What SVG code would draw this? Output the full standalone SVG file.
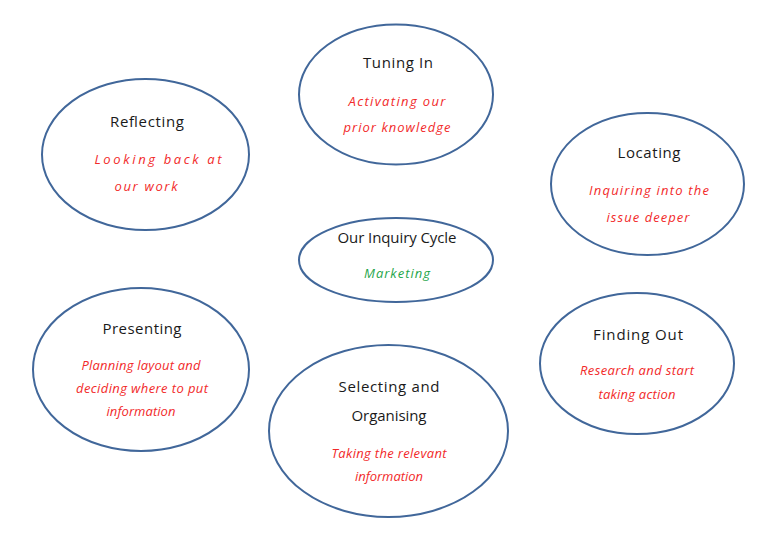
<svg xmlns="http://www.w3.org/2000/svg" width="768" height="543" viewBox="0 0 768 543">
<style>
.bg{fill:#ffffff}
.node ellipse{fill:#ffffff;stroke:#41679a;stroke-width:2}
text{font-family:"Open Sans","Liberation Sans",sans-serif;text-anchor:middle}
.t{fill:#1a1a1a;font-size:15px}
.r{fill:#f22a2a;font-size:13px;font-style:italic}
.g{fill:#1fa64a;font-size:13px;font-style:italic}
</style>
<rect class="bg" x="0" y="0" width="768" height="543"/>
<g id="connectors"/>
<g id="tuning-in" class="node">
<ellipse cx="396" cy="94.5" rx="97" ry="70"/>
<text class="t" x="398" y="68" textLength="70" lengthAdjust="spacing">Tuning In</text>
<text class="r" x="397" y="106" textLength="97" lengthAdjust="spacing">Activating our</text>
<text class="r" x="397" y="132" textLength="107" lengthAdjust="spacing">prior knowledge</text>
</g>
<g id="reflecting" class="node">
<ellipse cx="145.5" cy="154.5" rx="103.5" ry="75.5"/>
<text class="t" x="147" y="127" textLength="74" lengthAdjust="spacing">Reflecting</text>
<text class="r" x="158" y="164" textLength="127" lengthAdjust="spacing">Looking back at</text>
<text class="r" x="146" y="191" textLength="63" lengthAdjust="spacing">our work</text>
</g>
<g id="inquiry-cycle" class="node">
<ellipse cx="396" cy="260" rx="97" ry="42"/>
<text class="t" x="397" y="243" font-size="14" textLength="119" lengthAdjust="spacing">Our Inquiry Cycle</text>
<text class="g" x="397" y="278" textLength="66" lengthAdjust="spacing">Marketing</text>
</g>
<g id="locating" class="node">
<ellipse cx="647.5" cy="184" rx="96.5" ry="71"/>
<text class="t" x="649" y="158" textLength="63" lengthAdjust="spacing">Locating</text>
<text class="r" x="649" y="195" textLength="120" lengthAdjust="spacing">Inquiring into the</text>
<text class="r" x="648" y="222" textLength="83" lengthAdjust="spacing">issue deeper</text>
</g>
<g id="presenting" class="node">
<ellipse cx="141" cy="369.5" rx="108" ry="81.5"/>
<text class="t" x="142" y="334" textLength="79" lengthAdjust="spacing">Presenting</text>
<text class="r" x="141" y="370" textLength="119" lengthAdjust="spacing">Planning layout and</text>
<text class="r" x="142" y="393" textLength="132" lengthAdjust="spacing">deciding where to put</text>
<text class="r" x="141" y="416" textLength="69" lengthAdjust="spacing">information</text>
</g>
<g id="selecting" class="node">
<ellipse cx="388.5" cy="431" rx="119.5" ry="86"/>
<text class="t" x="389" y="392" textLength="101" lengthAdjust="spacing">Selecting and</text>
<text class="t" x="389" y="421" textLength="75" lengthAdjust="spacing">Organising</text>
<text class="r" x="389" y="458" textLength="115" lengthAdjust="spacing">Taking the relevant</text>
<text class="r" x="389" y="481" textLength="68" lengthAdjust="spacing">information</text>
</g>
<g id="finding-out" class="node">
<ellipse cx="637" cy="363.5" rx="97" ry="70.5"/>
<text class="t" x="638" y="340" textLength="90" lengthAdjust="spacing">Finding Out</text>
<text class="r" x="637" y="375" textLength="114" lengthAdjust="spacing">Research and start</text>
<text class="r" x="637" y="399" textLength="77" lengthAdjust="spacing">taking action</text>
</g>
</svg>
